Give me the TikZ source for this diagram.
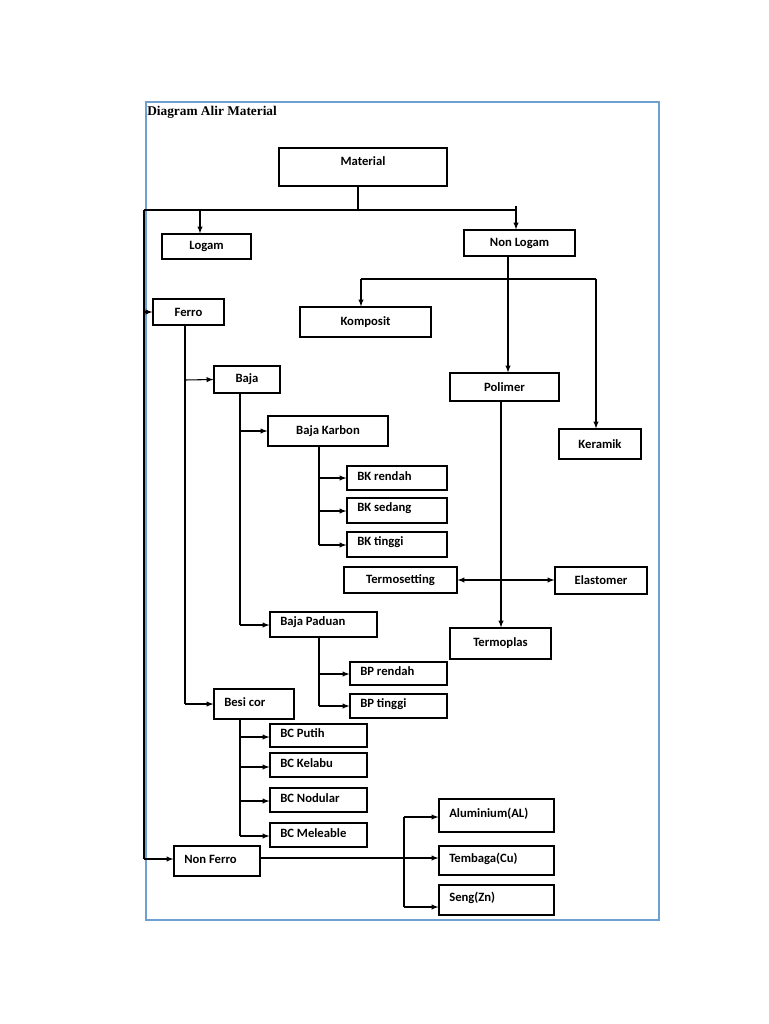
\documentclass[tikz,border=0pt]{standalone}
\usepackage{fontspec}
\setmainfont{Carlito}
\newfontfamily\titlefont{Liberation Serif}
\begin{document}
\begin{tikzpicture}[x=0.75pt,y=-0.75pt,
  box/.style={draw,line width=0.8pt,inner sep=0pt,font=\bfseries\fontsize{9.5}{11}\selectfont},
  txt/.style={anchor=west,inner sep=0pt,font=\bfseries\fontsize{9.5}{11}\selectfont},
  ln/.style={line width=0.8pt},
  arr/.style={ln,-latex}]
\useasboundingbox (0,0) rectangle (768,1024);
\newcommand\bx[6]{\pgfmathsetmacro\bw{(#4-#2)*0.75}\pgfmathsetmacro\bh{(#5-#3)*0.75}%
  \node[box,minimum width=\bw pt,minimum height=\bh pt] (#1) at ({(#2+#4)/2},{(#3+#5)/2}) {#6};}
\newcommand\lbx[6]{\pgfmathsetmacro\bw{(#4-#2)*0.75}\pgfmathsetmacro\bh{(#5-#3)*0.75}%
  \node[box,minimum width=\bw pt,minimum height=\bh pt] (#1) at ({(#2+#4)/2},{(#3+#5)/2}) {};
  \node[txt] (#1t) at ({#2+10},{(#3+#5)/2-2}) {#6};}
\draw[color={rgb,255:red,110;green,160;blue,210},line width=0.8pt] (146,102) rectangle (659,920);
\node[anchor=west,inner sep=0pt,font=\titlefont\bfseries\fontsize{10}{12}\selectfont] (title) at (147,112) {Diagram Alir Material};
\node[box,draw=none] at (0,0) {};
\bx{mat}{279}{148}{447}{186}{\raisebox{9pt}{Material}}
\bx{logam}{162}{234}{251}{259}{Logam}
\bx{nonlogam}{464}{230}{575}{256}{Non Logam}
\bx{ferro}{153}{299}{224}{325}{Ferro}
\bx{komposit}{300}{307}{431}{337}{Komposit}
\bx{baja}{214}{366}{280}{393}{Baja}
\bx{polimer}{450}{373}{559}{401}{Polimer}
\bx{bajak}{268}{416}{388}{446}{Baja Karbon}
\bx{keramik}{559}{429}{641}{459}{Keramik}
\lbx{bkr}{347}{466}{447}{490}{BK rendah}
\lbx{bks}{347}{498}{447}{523}{BK sedang}
\lbx{bkt}{347}{532}{447}{557}{BK tinggi}
\bx{termoset}{344}{567}{457}{593}{Termosetting}
\bx{elast}{555}{567}{647}{594}{Elastomer}
\lbx{bajap}{270}{612}{377}{637}{Baja Paduan}
\bx{termopl}{450}{628}{551}{659}{Termoplas}
\lbx{bpr}{350}{662}{447}{685}{BP rendah}
\lbx{bpt}{350}{694}{447}{718}{BP tinggi}
\lbx{besi}{214}{689}{294}{719}{Besi cor}
\lbx{bcp}{270}{724}{367}{747}{BC Putih}
\lbx{bck}{270}{753}{367}{777}{BC Kelabu}
\lbx{bcn}{270}{788}{367}{812}{BC Nodular}
\lbx{bcm}{270}{823}{367}{847}{BC Meleable}
\lbx{nonferro}{174}{846}{260}{876}{Non Ferro}
\lbx{alu}{439}{799}{554}{832}{Aluminium(AL)}
\lbx{tem}{439}{846}{554}{875}{Tembaga(Cu)}
\lbx{seng}{439}{885}{554}{915}{Seng(Zn)}
% Material
\coordinate (j1) at (358,210);
\draw[ln] (mat.south -| j1) -- (j1);
\draw[ln] (144,210) -- (516,210);
\draw[arr] (200,210) -- (logam.north -| 200,0);
\draw[arr] (516,206) -- (nonlogam.north -| 516,0);
\draw[ln] (144,210) -- (144,859);
\draw[arr] (144,312) -- (ferro.west);
\draw[arr] (144,859) -- (nonferro.west |- 0,859);
% Non logam
\draw[arr] (nonlogam.south -| 508,0) -- (polimer.north -| 508,0);
\draw[ln] (361,279) -- (596,279);
\draw[arr] (361,279) -- (komposit.north -| 361,0);
\draw[arr] (596,279) -- (keramik.north -| 596,0);
% Ferro
\draw[ln] (ferro.south -| 185,0) -- (185,704);
\draw[arr] (185,380) -- (baja.west);
\draw[arr] (185,704) -- (besi.west);
% Baja
\draw[ln] (baja.south -| 240,0) -- (240,625);
\draw[arr] (240,431) -- (bajak.west);
\draw[arr] (240,625) -- (bajap.west |- 0,625);
% Baja Karbon
\draw[ln] (bajak.south -| 319,0) -- (319,545);
\draw[arr] (319,478) -- (bkr.west);
\draw[arr] (319,511) -- (bks.west |- 0,511);
\draw[arr] (319,545) -- (bkt.west |- 0,545);
% Polimer
\draw[arr] (polimer.south -| 501,0) -- (termopl.north -| 501,0);
\draw[ln,latex-latex] (termoset.east |- 0,580) -- (elast.west |- 0,580);
% Baja Paduan
\draw[ln] (bajap.south -| 319,0) -- (319,706);
\draw[arr] (319,674) -- (bpr.west |- 0,674);
\draw[arr] (319,706) -- (bpt.west);
% Besi cor
\draw[ln] (besi.south -| 240,0) -- (240,836);
\draw[arr] (240,737) -- (bcp.west |- 0,737);
\draw[arr] (240,767) -- (bck.west |- 0,767);
\draw[arr] (240,801) -- (bcn.west |- 0,801);
\draw[arr] (240,836) -- (bcm.west |- 0,836);
% Non Ferro
\draw[arr] (nonferro.east |- 0,858) -- (tem.west |- 0,858);
\draw[ln] (404,817) -- (404,907);
\draw[arr] (404,817) -- (alu.west |- 0,817);
\draw[arr] (404,907) -- (seng.west |- 0,907);
\end{tikzpicture}
\end{document}
